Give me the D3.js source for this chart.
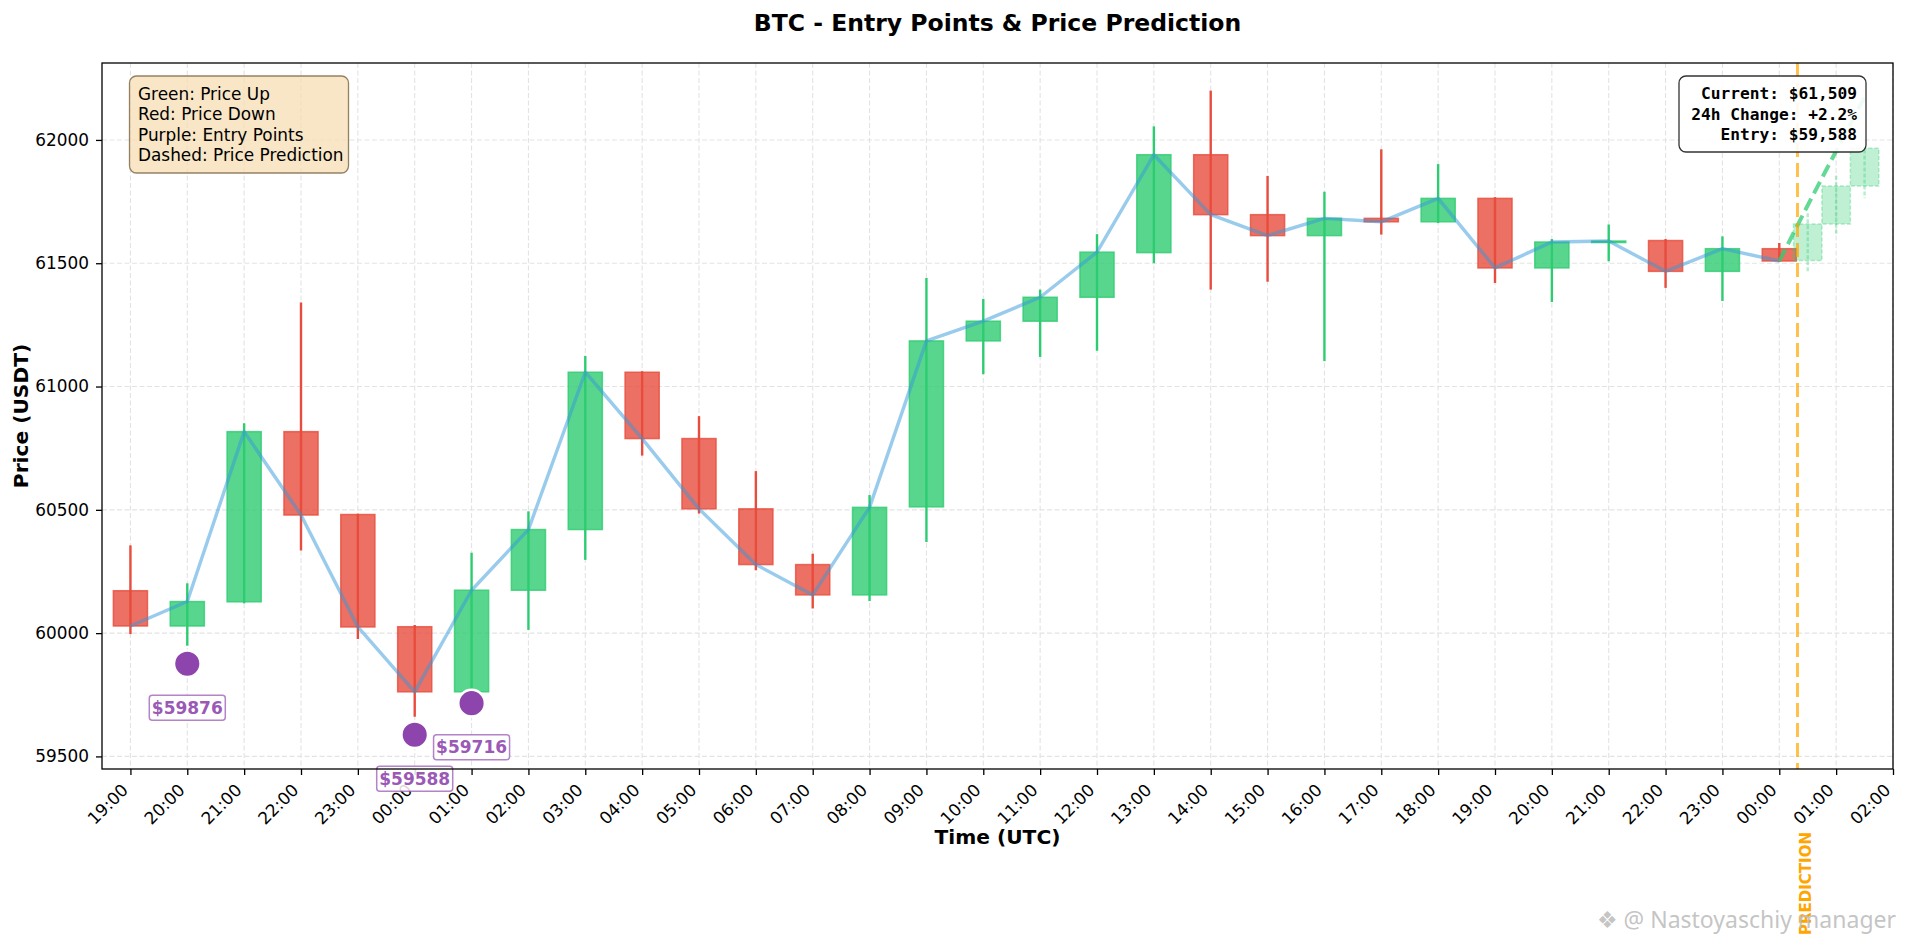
<!DOCTYPE html>
<html>
<head>
<meta charset="utf-8">
<script src="https://cdn.jsdelivr.net/npm/d3@7"></script>
<style>
  body { margin: 0; background: #fff; }
  svg { display: block; }
  text { font-family: "DejaVu Sans", sans-serif; }
</style>
</head>
<body>
<svg id="chart" width="1905" height="946"></svg>
<script>
// hourly candles, 19:00 -> 00:00 (two days later)
var candleTimes = ["19:00","20:00","21:00","22:00","23:00","00:00","01:00","02:00","03:00","04:00",
                   "05:00","06:00","07:00","08:00","09:00","10:00","11:00","12:00","13:00","14:00",
                   "15:00","16:00","17:00","18:00","19:00","20:00","21:00","22:00","23:00","00:00"];
var openP  = [60172,60029,60127,60817,60481,60026,59762,60174,60420,61058,60789,60504,60278,60155,60512,
              61185,61265,61362,61543,61940,61697,61612,61682,61668,61763,61481,61584,61592,61467,61559];
var highP  = [60356,60202,60851,61341,60484,60033,60326,60494,61124,61062,60880,60657,60322,60560,61440,
              61355,61393,61618,62055,62200,61854,61790,61962,61902,61768,61598,61657,61598,61609,61582];
var lowP   = [59996,59949,60121,60335,59976,59661,59755,60013,60297,60720,60485,60255,60100,60130,60370,
              61050,61120,61145,61500,61393,61425,61103,61616,61663,61420,61343,61508,61400,61347,61507];
var closeP = [60029,60128,60817,60479,60025,59762,60174,60420,61058,60789,60504,60278,60155,60510,61185,
              61265,61362,61545,61940,61697,61612,61682,61668,61763,61481,61586,61590,61467,61559,61509];

var tickLabels = ["19:00","20:00","21:00","22:00","23:00","00:00","01:00","02:00","03:00","04:00","05:00",
                  "06:00","07:00","08:00","09:00","10:00","11:00","12:00","13:00","14:00","15:00","16:00",
                  "17:00","18:00","19:00","20:00","21:00","22:00","23:00","00:00","01:00","02:00"];
var yTicks = [59500, 60000, 60500, 61000, 61500, 62000];

// entry points (candle index, price)
var entryIndex = [1, 5, 6];
var entryPrice = [59876, 59588, 59716];

// prediction (hours after 19:00 of first candle)
var predHour  = [29.5, 30, 30.5];
var predOpen  = [61511, 61659, 61813];
var predHigh  = [61703, 61855, 62010];
var predLow   = [61466, 61615, 61764];
var predClose = [61659, 61813, 61966];
var predLineHour  = [29, 29.5, 30, 30.5];
var predLinePrice = [61509, 61735, 61955, 62175];
var nowHour = 29.32;

var infoLines = ["Current: $61,509", "24h Change: +2.2%", "Entry: $59,588"];
var legendLines = ["Green: Price Up", "Red: Price Down", "Purple: Entry Points", "Dashed: Price Prediction"];

var green = "#2ecc71", red = "#e74c3c", purple = "#8e44ad";

var svg = d3.select("#chart");
var margin = {top: 63, right: 12, bottom: 177, left: 102},
    width = 1905 - margin.left - margin.right,
    height = 946 - margin.top - margin.bottom;

var x = d3.scaleLinear().domain([-0.5, 31]).range([0, width]);
var y = d3.scaleLinear().domain([59449, 62312]).range([height, 0]);

var g = svg.append("g")
    .attr("transform", "translate(" + margin.left + "," + margin.top + ")");

// grid
g.selectAll(".vgrid")
    .data(d3.range(tickLabels.length))
    .enter().append("line")
    .attr("x1", function(d) { return x(d); })
    .attr("x2", function(d) { return x(d); })
    .attr("y1", 0).attr("y2", height)
    .style("stroke", "#e3e3e3").style("stroke-width", 1.1)
    .style("stroke-dasharray", "5,2.5");

g.selectAll(".hgrid")
    .data(yTicks)
    .enter().append("line")
    .attr("x1", 0).attr("x2", width)
    .attr("y1", function(d) { return y(d); })
    .attr("y2", function(d) { return y(d); })
    .style("stroke", "#e3e3e3").style("stroke-width", 1.1)
    .style("stroke-dasharray", "5,2.5");

// axes
var xAxis = d3.axisBottom(x)
    .tickValues(d3.range(tickLabels.length))
    .tickFormat(function(i) { return tickLabels[i]; })
    .tickSize(6).tickSizeOuter(0);

var yAxis = d3.axisLeft(y)
    .tickValues(yTicks)
    .tickFormat(function(d) { return d; })
    .tickSize(6).tickSizeOuter(0).tickPadding(7);

var gx = g.append("g")
    .attr("class", "x axis")
    .attr("transform", "translate(0," + height + ")")
    .call(xAxis);
gx.select(".domain").remove();
gx.selectAll("line").style("stroke", "#000").style("stroke-width", 1.3);
gx.selectAll("text")
    .attr("x", 0).attr("y", 0).attr("dy", "0.35em")
    .attr("transform", "translate(-6,18) rotate(-45)")
    .style("text-anchor", "end")
    .style("font-size", "16.9px")
    .style("font-family", "DejaVu Sans")
    .style("fill", "#000");

var gy = g.append("g")
    .attr("class", "y axis")
    .call(yAxis);
gy.select(".domain").remove();
gy.selectAll("line").style("stroke", "#000").style("stroke-width", 1.3);
gy.selectAll("text")
    .style("font-size", "16.9px")
    .style("font-family", "DejaVu Sans")
    .style("fill", "#000");

// candles
var idx = d3.range(candleTimes.length);
var bw = x(0.6) - x(0);

var candle = g.selectAll(".candle")
    .data(idx)
    .enter().append("g")
    .attr("class", "candle");

candle.append("line")
    .attr("x1", function(i) { return x(i); })
    .attr("x2", function(i) { return x(i); })
    .attr("y1", function(i) { return y(highP[i]); })
    .attr("y2", function(i) { return y(lowP[i]); })
    .style("stroke", function(i) { return closeP[i] >= openP[i] ? green : red; })
    .style("stroke-width", 2.4);

candle.append("rect")
    .attr("x", function(i) { return x(i) - bw / 2; })
    .attr("width", bw)
    .attr("y", function(i) { return y(Math.max(openP[i], closeP[i])); })
    .attr("height", function(i) { return Math.max(1.5, Math.abs(y(openP[i]) - y(closeP[i]))); })
    .style("fill", function(i) { return closeP[i] >= openP[i] ? green : red; })
    .style("fill-opacity", 0.8)
    .style("stroke", function(i) { return closeP[i] >= openP[i] ? green : red; })
    .style("stroke-opacity", 0.8)
    .style("stroke-width", 1.5);

// close line
var line = d3.line()
    .x(function(i) { return x(i); })
    .y(function(i) { return y(closeP[i]); });

g.append("path")
    .datum(idx)
    .attr("d", line)
    .style("fill", "none")
    .style("stroke", "#3498db")
    .style("stroke-opacity", 0.5)
    .style("stroke-width", 3.4)
    .style("stroke-linejoin", "round");

// prediction candles
var pIdx = d3.range(predHour.length);
var pw = x(0.5) - x(0);
var pc = g.selectAll(".pred")
    .data(pIdx)
    .enter().append("g")
    .attr("class", "pred");

pc.append("line")
    .attr("x1", function(i) { return x(predHour[i]); })
    .attr("x2", function(i) { return x(predHour[i]); })
    .attr("y1", function(i) { return y(predHigh[i]); })
    .attr("y2", function(i) { return y(predLow[i]); })
    .style("stroke", green).style("stroke-opacity", 0.35)
    .style("stroke-width", 2.4).style("stroke-dasharray", "4,2");

pc.append("rect")
    .attr("x", function(i) { return x(predHour[i]) - pw / 2; })
    .attr("width", pw)
    .attr("y", function(i) { return y(Math.max(predOpen[i], predClose[i])); })
    .attr("height", function(i) { return Math.abs(y(predOpen[i]) - y(predClose[i])); })
    .style("fill", green).style("fill-opacity", 0.3)
    .style("stroke", green).style("stroke-opacity", 0.35)
    .style("stroke-width", 1.5).style("stroke-dasharray", "4,2");

// prediction line
var pLine = d3.line()
    .x(function(i) { return x(predLineHour[i]); })
    .y(function(i) { return y(predLinePrice[i]); });

g.append("path")
    .datum(d3.range(predLineHour.length))
    .attr("d", pLine)
    .style("fill", "none")
    .style("stroke", green)
    .style("stroke-opacity", 0.75)
    .style("stroke-width", 4)
    .style("stroke-dasharray", "13,6");

// now marker
g.append("line")
    .attr("x1", x(nowHour)).attr("x2", x(nowHour))
    .attr("y1", 0).attr("y2", height)
    .style("stroke", "orange").style("stroke-opacity", 0.7)
    .style("stroke-width", 3).style("stroke-dasharray", "14,6");

// entry points
var eIdx = d3.range(entryIndex.length);
g.selectAll(".entry")
    .data(eIdx)
    .enter().append("circle")
    .attr("class", "entry")
    .attr("cx", function(i) { return x(entryIndex[i]); })
    .attr("cy", function(i) { return y(entryPrice[i]); })
    .attr("r", 13.3)
    .style("fill", purple)
    .style("stroke", "#fff")
    .style("stroke-width", 2.5);

var eLab = g.selectAll(".elab")
    .data(eIdx)
    .enter().append("g")
    .attr("class", "elab")
    .attr("transform", function(i) {
        return "translate(" + x(entryIndex[i]) + "," + (y(entryPrice[i]) + 44) + ")";
    });

eLab.append("rect")
    .attr("x", -38).attr("y", -12.5)
    .attr("width", 76).attr("height", 25)
    .attr("rx", 3)
    .style("fill", "#fff").style("fill-opacity", 0.85)
    .style("stroke", "#9b59b6").style("stroke-opacity", 0.75)
    .style("stroke-width", 1.5);

eLab.append("text")
    .attr("y", 6.3)
    .style("text-anchor", "middle")
    .style("font-size", "17px")
    .style("font-weight", "bold")
    .style("fill", "#9b59b6")
    .text(function(i) { return "$" + entryPrice[i]; });

// frame
g.append("rect")
    .attr("width", width).attr("height", height)
    .style("fill", "none")
    .style("stroke", "#000")
    .style("stroke-width", 1.3);

// legend box
svg.append("rect")
    .attr("x", 129.5).attr("y", 76)
    .attr("width", 219).attr("height", 97)
    .attr("rx", 7)
    .style("fill", "wheat").style("fill-opacity", 0.75)
    .style("stroke", "#8b7355").style("stroke-opacity", 0.9)
    .style("stroke-width", 1.3);

svg.selectAll(".legtext")
    .data(legendLines)
    .enter().append("text")
    .attr("x", 138)
    .attr("y", function(d, i) { return 99.5 + i * 20.5; })
    .style("font-size", "16.9px")
    .style("fill", "#000")
    .text(function(d) { return d; });

// info box
svg.append("rect")
    .attr("x", 1679).attr("y", 76)
    .attr("width", 187).attr("height", 76)
    .attr("rx", 7)
    .style("fill", "#fff").style("fill-opacity", 0.9)
    .style("stroke", "#333")
    .style("stroke-width", 1.3);

svg.selectAll(".infotext")
    .data(infoLines)
    .enter().append("text")
    .attr("x", 1857)
    .attr("y", function(d, i) { return 99 + i * 20.5; })
    .style("text-anchor", "end")
    .style("font-family", "DejaVu Sans Mono")
    .style("font-weight", "bold")
    .style("font-size", "16.2px")
    .style("fill", "#000")
    .text(function(d) { return d; });

// titles
svg.append("text")
    .attr("x", margin.left + width / 2)
    .attr("y", 30.5)
    .style("text-anchor", "middle")
    .style("font-size", "23.5px")
    .style("font-weight", "bold")
    .text("BTC - Entry Points & Price Prediction");

svg.append("text")
    .attr("x", margin.left + width / 2)
    .attr("y", 844)
    .style("text-anchor", "middle")
    .style("font-size", "20.2px")
    .style("font-weight", "bold")
    .text("Time (UTC)");

svg.append("text")
    .attr("transform", "translate(28," + (margin.top + height / 2) + ") rotate(-90)")
    .style("text-anchor", "middle")
    .style("font-size", "20.2px")
    .style("font-weight", "bold")
    .text("Price (USDT)");

svg.append("text")
    .attr("transform", "translate(" + (margin.left + x(nowHour) + 14) + ",935) rotate(-90)")
    .style("text-anchor", "start")
    .style("font-size", "15px")
    .style("font-weight", "bold")
    .style("fill", "orange")
    .text("PREDICTION");

// watermark
svg.append("text")
    .attr("x", 1896).attr("y", 928)
    .style("text-anchor", "end")
    .style("font-family", "Noto Sans")
    .style("font-size", "23px")
    .style("fill", "#bdbdbd")
    .style("fill-opacity", 0.9)
    .text("\u2756 @ Nastoyaschiy manager");
</script>
</body>
</html>
